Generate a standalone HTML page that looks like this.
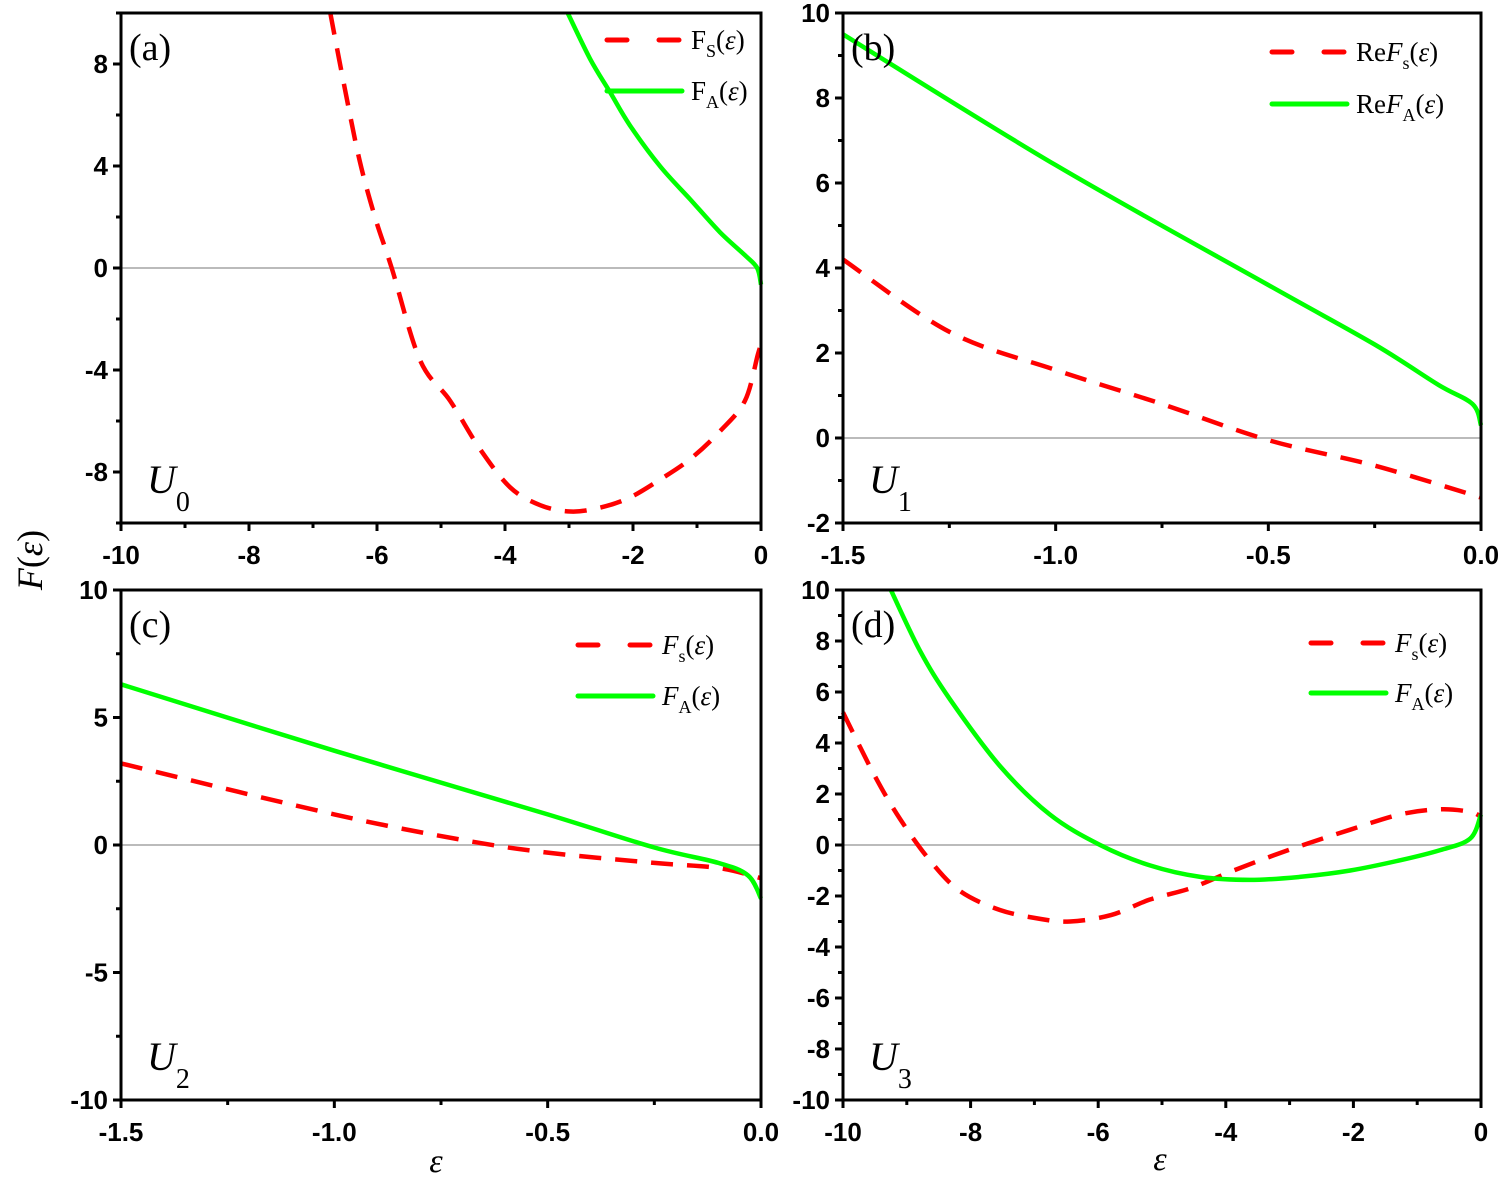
<!DOCTYPE html>
<html><head><meta charset="utf-8"><style>
body{margin:0;background:#fff}
svg text{font-family:"Liberation Sans",Arial,sans-serif}
.tl{font-weight:bold;font-size:26px}
.sr{font-family:"Liberation Serif",serif}
</style></head><body>
<svg id="chart" width="1500" height="1181" viewBox="0 0 1500 1181" xmlns="http://www.w3.org/2000/svg"></svg>
<script>
// Panel (a)
const aFsX=[-6.73,-6.5,-6.27,-6.02,-5.77,-5.33,-4.86,-4.39,-3.92,-3.45,-2.98,-2.52,-2.05,-1.58,-1.11,-0.64,-0.25,-0.05,0];
const aFsY=[10,7.0,4.2,1.9,0,-3.6,-5.2,-7.1,-8.6,-9.3,-9.55,-9.4,-9.0,-8.3,-7.5,-6.4,-5.2,-3.4,-3.0];
const aFaX=[-3.02,-2.67,-2.36,-2.05,-1.58,-1.11,-0.64,-0.25,-0.06,0];
const aFaY=[10,8.2,6.9,5.6,4.0,2.7,1.4,0.5,0,-0.65];
// Panel (b)
const bFsX=[-1.5,-1.25,-1.0,-0.75,-0.5,-0.25,0];
const bFsY=[4.2,2.5,1.6,0.8,-0.05,-0.65,-1.4];
const bFaX=[-1.5,-1.0,-0.5,-0.25,-0.1,-0.02,0];
const bFaY=[9.5,6.42,3.6,2.2,1.25,0.8,0.3];
// Panel (c)
const cFsX=[-1.5,-1.0,-0.7,-0.5,-0.25,-0.1,0];
const cFsY=[3.2,1.2,0.2,-0.3,-0.7,-0.9,-1.3];
const cFaX=[-1.5,-1.0,-0.5,-0.25,-0.1,-0.03,0];
const cFaY=[6.3,3.7,1.2,-0.1,-0.7,-1.2,-2.1];
// Panel (d)
const dFsX=[-10,-9.5,-9.1,-8.64,-8.17,-7.54,-6.9,-6.44,-5.8,-5.2,-4.56,-3.93,-3.3,-2.67,-2.05,-1.27,-0.64,-0.17,0];
const dFsY=[5.2,2.7,1.0,-0.6,-1.8,-2.55,-2.9,-3.0,-2.75,-2.15,-1.7,-1.05,-0.45,0.1,0.6,1.2,1.4,1.3,1.1];
const dFaX=[-9.25,-8.79,-8.32,-7.54,-6.76,-5.97,-5.19,-4.4,-3.62,-2.84,-2.05,-1.27,-0.64,-0.17,0];
const dFaY=[10,7.6,5.7,3.1,1.2,0,-0.8,-1.25,-1.37,-1.25,-1.0,-0.6,-0.2,0.25,1.2];
// ticks
const aXT=[-10,-8,-6,-4,-2,0], aYT=[8,4,0,-4,-8];
const bXT=[-1.5,-1.0,-0.5,0.0], bYT=[-2,0,2,4,6,8,10];
const cXT=[-1.5,-1.0,-0.5,0.0], cYT=[-10,-5,0,5,10];
const dXT=[-10,-8,-6,-4,-2,0], dYT=[-10,-8,-6,-4,-2,0,2,4,6,8,10];

const NS="http://www.w3.org/2000/svg";
const svg=document.getElementById('chart');
function mk(tag,attrs,parent){const e=document.createElementNS(NS,tag);for(const k in attrs)e.setAttribute(k,attrs[k]);(parent||svg).appendChild(e);return e;}
function smooth(P){
  let d='M'+P[0][0].toFixed(1)+','+P[0][1].toFixed(1);
  for(let i=0;i<P.length-1;i++){
    const p0=P[Math.max(0,i-1)],p1=P[i],p2=P[i+1],p3=P[Math.min(P.length-1,i+2)];
    const c1=[p1[0]+(p2[0]-p0[0])/6,p1[1]+(p2[1]-p0[1])/6];
    const c2=[p2[0]-(p3[0]-p1[0])/6,p2[1]-(p3[1]-p1[1])/6];
    d+=' C'+c1.map(v=>v.toFixed(1)).join(',')+' '+c2.map(v=>v.toFixed(1)).join(',')+' '+p2.map(v=>v.toFixed(1)).join(',');
  }
  return d;
}

function panel(o){
  const g=mk('g',{});
  
  
  const sx=v=>o.L+(v-o.x0)/(o.x1-o.x0)*(o.R-o.L);
  const sy=v=>o.B-(v-o.y0)/(o.y1-o.y0)*(o.B-o.T);
  const z=mk('line',{x1:o.L,x2:o.R,y1:sy(0),y2:sy(0),stroke:'#bbb','stroke-width':2},g);
  
  
  function series(xs,ys,color,dash,name){
    const P=xs.map((x,i)=>[sx(x),sy(ys[i])]);
    const p=mk('path',{d:smooth(P),fill:'none',stroke:color,'stroke-width':4.5,'stroke-linecap':'butt','stroke-linejoin':'round'},g);
    if(dash)p.setAttribute('stroke-dasharray','22 14');
    
    
  }
  series(o.fsx,o.fsy,'#ff0000',true,'series-fs');
  series(o.fax,o.fay,'#00ff00',false,'series-fa');
  const f=mk('rect',{x:o.L,y:o.T,width:o.R-o.L,height:o.B-o.T,fill:'none',stroke:'#000','stroke-width':3},g);
  
  
  o.xt.forEach(v=>{
    mk('line',{x1:sx(v),x2:sx(v),y1:o.B,y2:o.B+8,stroke:'#000','stroke-width':3},g);
    const t=mk('text',{x:sx(v),y:o.B+41,'text-anchor':'middle',class:'tl'},g);
    t.textContent=o.xf(v);
    
    
  });
  o.xm.forEach(v=>mk('line',{x1:sx(v),x2:sx(v),y1:o.B,y2:o.B+5,stroke:'#000','stroke-width':3},g));
  o.yt.forEach(v=>{
    mk('line',{x1:o.L-8,x2:o.L,y1:sy(v),y2:sy(v),stroke:'#000','stroke-width':3},g);
    const t=mk('text',{x:o.L-13,y:sy(v)+9,'text-anchor':'end',class:'tl'},g);
    t.textContent=o.yf(v);
    
    
  });
  o.ym.forEach(v=>mk('line',{x1:o.L-5,x2:o.L,y1:sy(v),y2:sy(v),stroke:'#000','stroke-width':3},g));
  const pl=mk('text',{x:o.L+8,y:o.T+47,'font-size':38,class:'sr'},g);
  pl.textContent='('+o.id+')';
  
  
  const u=mk('text',{x:o.L+26,y:o.B-30,'font-size':40,'font-style':'italic',class:'sr'},g);
  u.innerHTML='U<tspan font-style="normal" font-size="28" dy="18">'+o.u+'</tspan>';
  
  
  o.leg.forEach((l,i)=>{
    const y=o.ly[i];
    const ln=mk('line',{x1:o.lx,x2:o.lx+75,y1:y,y2:y,stroke:i?'#00ff00':'#ff0000','stroke-width':5,'stroke-linecap':'round'},g);
    if(!i)ln.setAttribute('stroke-dasharray','20 32');
    
    
    const t=mk('text',{x:o.lx+84,y:y+9,'font-size':27,class:'sr'},g);
    t.innerHTML=l;
    
    
  });
}
const f1=v=>v.toFixed(1), f0=v=>String(v);
const odd=[-9,-7,-5,-3,-1], q=[-1.25,-0.75,-0.25];
const eps='(<tspan font-style="italic">ε</tspan>)';
panel({id:'a',L:121,R:761,T:13,B:523,x0:-10,x1:0,y0:-10,y1:10,fsx:aFsX,fsy:aFsY,fax:aFaX,fay:aFaY,
  xt:aXT,xm:odd,yt:aYT,ym:[10,6,2,-2,-6,-10],xf:f0,yf:f0,u:'0',lx:607,ly:[40,91],
  leg:['F<tspan font-size="18" dy="8">S</tspan><tspan dy="-8">'+eps+'</tspan>','F<tspan font-size="18" dy="8">A</tspan><tspan dy="-8">'+eps+'</tspan>']});
panel({id:'b',L:843,R:1481,T:13,B:523,x0:-1.5,x1:0,y0:-2,y1:10,fsx:bFsX,fsy:bFsY,fax:bFaX,fay:bFaY,
  xt:bXT,xm:q,yt:bYT,ym:[-1,1,3,5,7,9],xf:f1,yf:f0,u:'1',lx:1272,ly:[52,104],
  leg:['Re<tspan font-style="italic">F</tspan><tspan font-size="18" dy="8">s</tspan><tspan dy="-8">'+eps+'</tspan>','Re<tspan font-style="italic">F</tspan><tspan font-size="18" dy="8">A</tspan><tspan dy="-8">'+eps+'</tspan>']});
panel({id:'c',L:121,R:761,T:590,B:1100,x0:-1.5,x1:0,y0:-10,y1:10,fsx:cFsX,fsy:cFsY,fax:cFaX,fay:cFaY,
  xt:cXT,xm:q,yt:cYT,ym:[-7.5,-2.5,2.5,7.5],xf:f1,yf:f0,u:'2',lx:578,ly:[645,696],
  leg:['<tspan font-style="italic">F</tspan><tspan font-size="18" dy="8">s</tspan><tspan dy="-8">'+eps+'</tspan>','<tspan font-style="italic">F</tspan><tspan font-size="18" dy="8">A</tspan><tspan dy="-8">'+eps+'</tspan>']});
panel({id:'d',L:843,R:1481,T:590,B:1100,x0:-10,x1:0,y0:-10,y1:10,fsx:dFsX,fsy:dFsY,fax:dFaX,fay:dFaY,
  xt:dXT,xm:odd,yt:dYT,ym:[-9,-7,-5,-3,-1,1,3,5,7,9],xf:f0,yf:f0,u:'3',lx:1311,ly:[643,693],
  leg:['<tspan font-style="italic">F</tspan><tspan font-size="18" dy="8">s</tspan><tspan dy="-8">'+eps+'</tspan>','<tspan font-style="italic">F</tspan><tspan font-size="18" dy="8">A</tspan><tspan dy="-8">'+eps+'</tspan>']});
const yt=mk('text',{x:0,y:0,'font-size':36,class:'sr','text-anchor':'middle',transform:'translate(42,560) rotate(-90)'});
yt.innerHTML='<tspan font-style="italic">F</tspan>(<tspan font-style="italic">ε</tspan>)';


[[436,1172],[1160,1170]].forEach(p=>{
  const t=mk('text',{x:p[0],y:p[1],'font-size':34,'font-style':'italic',class:'sr','text-anchor':'middle'});
  t.textContent='ε';
  
  
});
</script>
</body></html>
